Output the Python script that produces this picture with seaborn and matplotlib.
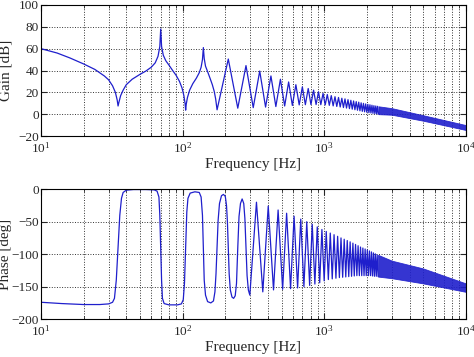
import matplotlib
matplotlib.use('Agg')
import matplotlib.pyplot as plt
import pandas as pd
import seaborn as sns

# ---- gain, low band (hand read, Hz / dB)
gain_low_hz = [10, 13, 16, 20, 24, 28, 30, 32, 33.5, 34.5, 35, 35.5, 36.5, 38, 40, 44, 50, 55, 60, 64,
               67, 69, 70, 71, 73, 76, 80, 85, 90, 95, 99, 102, 104, 105, 106, 108, 112, 118, 125, 131,
               135, 138, 140, 142, 145, 150, 156, 162, 167, 171, 173, 175]
gain_low_db = [60, 56, 51.5, 46, 41, 35, 31.5, 26, 20, 13, 7.5, 11, 17, 22, 27, 32, 36.5, 39.5, 43, 47,
               53, 62, 78, 62, 54, 49, 45, 40, 35.5, 30, 24, 17, 10, 3.7, 9, 15, 22, 28, 33, 38,
               43, 50, 61, 51, 44, 39, 33, 27, 21, 14, 9, 4]

# ---- gain, resonance peaks and notches above 200 Hz
peak_hz = [210, 280, 350, 420, 490, 560, 630, 700, 770, 840, 910, 980, 1050, 1120, 1190, 1260,
           1330, 1400, 1470, 1540, 1610, 1680, 1750, 1820, 1890, 1960, 2030, 2100, 2170, 2240, 2310, 2380]
peak_db = [50.5, 44.5, 39.5, 35, 32, 29.5, 27, 25, 23.5, 22, 20.5, 19, 18, 17, 16, 15.3,
           14.6, 14, 13.3, 12.7, 12.1, 11.5, 11, 10.4, 9.9, 9.4, 9, 8.6, 8.2, 7.8, 7.5, 7.2]
notch_hz = [245, 315, 385, 455, 525, 595, 665, 735, 805, 875, 945, 1015, 1085, 1155, 1225, 1295,
            1365, 1435, 1505, 1575, 1645, 1715, 1785, 1855, 1925, 1995, 2065, 2135, 2205, 2275, 2345, 2415]
notch_db = [5.5, 6, 6.5, 7, 7.5, 8, 8.5, 8.7, 8.8, 8.8, 8.7, 8.5, 8.1, 7.6, 7.1, 6.6,
            6.1, 5.6, 5.1, 4.6, 4.1, 3.6, 3.1, 2.6, 2.2, 1.8, 1.4, 1.1, 0.8, 0.5, 0.2, 0]

# ---- gain, dense band envelope
gband_hz = [2415, 3000, 5000, 10000]
gband_hi = [7.2, 5.5, -1, -10]
gband_lo = [0, -0.5, -6, -14.5]

# ---- phase, low band (Hz / deg)
phase_low_hz = [10, 14, 20, 26, 30, 32, 33, 34, 35, 36, 37, 38, 40, 45, 55, 63, 66, 68, 69, 70,
                71, 72, 74, 80, 92, 98, 101, 103, 105, 107, 109, 113, 122, 131, 135, 138, 140, 142, 145, 150,
                158, 165, 169, 172, 175, 178, 182, 188, 194, 200, 204, 207, 210, 213, 217, 223, 229, 235, 240, 245,
                250, 256, 263, 270, 275, 280, 285, 291, 298]
phase_low_deg = [-174, -176, -177.5, -177.5, -176.5, -174, -168, -140, -90, -40, -14, -5, -1.5, -0.5, -0.5, -1, -3, -12, -40, -90,
                 -140, -168, -176, -178, -178, -176.5, -170, -145, -90, -35, -14, -6, -4, -5, -12, -40, -90, -140, -163, -173,
                 -175, -172, -158, -130, -90, -48, -22, -10, -8, -11, -25, -50, -90, -130, -155, -166, -168, -164, -145, -90,
                 -42, -22, -15, -22, -45, -90, -133, -155, -163]

# ---- phase, crests and troughs above 300 Hz
crest_hz = [332, 402, 472, 542, 612, 682, 752, 822, 892, 962, 1032, 1102, 1172, 1242, 1312,
            1382, 1452, 1522, 1592, 1662, 1732, 1802, 1872, 1942, 2012, 2082, 2152, 2222, 2292, 2362]
crest_deg = [-20, -26, -32, -37, -41.5, -46, -50, -54, -58, -62, -65, -67.5, -70, -72.5, -75,
             -77, -79, -81, -83, -85, -87, -89, -90.5, -92, -93.5, -95, -96.5, -98, -99.5, -101]
trough_hz = [368, 438, 508, 578, 648, 718, 788, 858, 928, 998, 1068, 1138, 1208, 1278, 1348,
             1418, 1488, 1558, 1628, 1698, 1768, 1838, 1908, 1978, 2048, 2118, 2188, 2258, 2328, 2398]
trough_deg = [-158, -155, -154, -153, -152, -150, -148, -146, -144, -141, -139, -138, -137, -136, -135.5,
              -135, -134.5, -134, -133.5, -133, -133, -133, -133, -133, -133, -133, -133.5, -134, -134, -134.5]

# ---- phase, dense band envelope
pband_hz = [2398, 3000, 5000, 10000]
pband_hi = [-101, -110, -122, -145]
pband_lo = [-134.5, -137, -145, -158]

blue = '#1f1fcc'

gain = pd.DataFrame({
    'hz': gain_low_hz + [f for pair in zip(peak_hz, notch_hz) for f in pair],
    'db': gain_low_db + [v for pair in zip(peak_db, notch_db) for v in pair],
})
phase = pd.DataFrame({
    'hz': phase_low_hz + [f for pair in zip(crest_hz, trough_hz) for f in pair],
    'deg': phase_low_deg + [v for pair in zip(crest_deg, trough_deg) for v in pair],
})

sns.set_style('ticks')
plt.rcParams['font.family'] = ['Liberation Serif', 'DejaVu Serif']
plt.rcParams['mathtext.fontset'] = 'stix'

fig = plt.figure(figsize=(4.74, 3.57), dpi=100)
ax1 = fig.add_axes([0.0865, 0.619, 0.8965, 0.367])
ax2 = fig.add_axes([0.0865, 0.106, 0.8965, 0.364])

sns.lineplot(data=gain, x='hz', y='db', ax=ax1, estimator=None, sort=False, color=blue, linewidth=0.9)
ax1.fill_between(gband_hz, gband_lo, gband_hi, color=blue, alpha=0.9, linewidth=0.6)
sns.lineplot(data=phase, x='hz', y='deg', ax=ax2, estimator=None, sort=False, color=blue, linewidth=0.9)
ax2.fill_between(pband_hz, pband_lo, pband_hi, color=blue, alpha=0.9, linewidth=0.6)

for ax, lim, ticks, lab in [(ax1, (-20, 100), range(-20, 101, 20), 'Gain [dB]'),
                            (ax2, (-200, 0), range(-200, 1, 50), 'Phase [deg]')]:
    ax.set_xscale('log')
    ax.set_xlim(10, 1e4)
    ax.set_ylim(*lim)
    ax.set_yticks(list(ticks))
    ax.grid(True, which='both', axis='x', ls=':', color='0.2', lw=0.7)
    ax.grid(True, which='major', axis='y', ls=':', color='0.2', lw=0.7)
    ax.tick_params(which='both', direction='in', top=True, right=True, labelsize=9.5)
    ax.tick_params(axis='y', pad=1.5)
    ax.tick_params(axis='x', pad=3.5)
    ax.tick_params(which='major', length=4)
    ax.tick_params(which='minor', length=2)
    for s in ax.spines.values():
        s.set_color('black')
        s.set_linewidth(0.8)
    ax.set_xlabel('Frequency [Hz]', fontsize=11, labelpad=2)
    ax.set_ylabel(lab, fontsize=11)
    ax.yaxis.set_label_coords(-0.068, 0.5)

fig.savefig('out.png', dpi=100)
